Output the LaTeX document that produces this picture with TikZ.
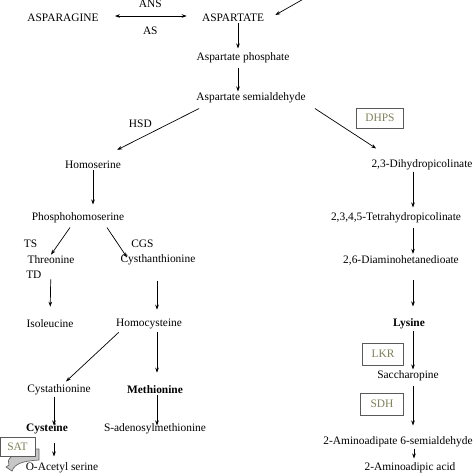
\documentclass[tikz,border=0pt]{standalone}
\usepackage{fontspec}
\setmainfont{Liberation Serif}
\usetikzlibrary{arrows.meta}
\definecolor{enztext}{RGB}{128,128,88}
\definecolor{enzline}{RGB}{90,90,90}

\begin{document}
\begin{tikzpicture}[x=1pt,y=-1pt,line width=0.7pt,>={Stealth[length=5pt,width=3.6pt]},
	every node/.style={font=\fontsize{11.4}{13}\selectfont,inner sep=1pt},
	enz/.style={draw=enzline,fill=white,text=enztext,minimum height=20pt,inner xsep=6pt}]
	\useasboundingbox (0,0) rectangle (474,474);

	\node (ASN) at (63,18) {ASPARAGINE};
	\node (ASP) at (233,18) {ASPARTATE};
	\node (ASPP) at (243,58) {Aspartate phosphate};
	\node (ASA) at (251,98) {Aspartate semialdehyde};
	\node (HSE) at (93,165) {Homoserine};
	\node (PHS) at (78,218) {Phosphohomoserine};
	\node (THR) at (51,260) {Threonine};
	\node (CTN) at (158,260) {Cysthanthionine};
	\node (ILE) at (50,324) {Isoleucine};
	\node (HCY) at (149,324) {Homocysteine};
	\node (CTH) at (59,390) {Cystathionine};
	\node (MET) at (155,390) {\bfseries Methionine};
	\node (CYS) at (47,429) {\bfseries Cysteine};
	\node (SAM) at (155,429) {S-adenosylmethionine};
	\node (OAS) at (62,468) {O-Acetyl serine};
	\node (DHP) at (422,165) {2,3-Dihydropicolinate};
	\node (THP) at (396,218) {2,3,4,5-Tetrahydropicolinate};
	\node (DAP) at (401,260) {2,6-Diaminohetanedioate};
	\node (LYS) at (409,324) {\bfseries Lysine};
	\node (SAC) at (408,376) {Saccharopine};
	\node (AAS) at (398,442) {2-Aminoadipate 6-semialdehyde};
	\node (AAA) at (410,468) {2-Aminoadipic acid};
	\coordinate (IN) at (307,-3);

	% enzymes in boxes
	\node[enz,minimum width=47pt] (DHPS) at (380,118) {DHPS};
	\node[enz,minimum width=41pt,minimum height=22pt] (LKR) at (383,354) {LKR};
	\node[enz,minimum width=43pt,minimum height=22pt] (SDH) at (382,404) {SDH};
	\draw[fill=black!22,draw=black!60] (35,449) -- (39,449) -- (39,460) .. controls (24,461) and (15,463) .. (12,471) -- (6,467) -- (9,465) .. controls (8,460) .. (12,456) -- cycle;
	\node[enz,minimum width=35pt,minimum height=19pt] (SAT) at (17.5,446.5) {SAT};

	% aspartate
	\path [<->]([yshift=2pt]ASN.east) edge[shorten <=15pt,shorten >=14pt] node[above=7pt] {ANS} node[below=10pt] {AS} ([yshift=2pt]ASP.west);
	\path [->](IN) edge ([xshift=10pt,yshift=3pt]ASP.east);
	\path [->]([xshift=5pt]ASP.south) edge[shorten >=3pt] ([xshift=-5pt]ASPP.north);
	\path [->]([xshift=-5pt]ASPP.south) edge[shorten <=3pt] ([xshift=-13pt]ASA.north);
	\path [->]([xshift=4pt,yshift=-4pt]ASA.south west) edge node[above left,xshift=-5pt] {HSD} ([xshift=-5pt,yshift=10pt]HSE.north east);
	\path [->]([xshift=8pt,yshift=-4pt]ASA.south east) edge ([xshift=6pt,yshift=10pt]DHP.north west);

	% threonine and methionine
	\path [->](HSE.south) edge[shorten >=7pt] ([xshift=15pt]PHS.north);
	\path [->]([xshift=-8pt,yshift=-3pt]PHS.south) edge node[pos=0.6,left=20pt] {TS} (THR.north);
	\path [->]([xshift=29pt,yshift=-3pt]PHS.south) edge node[pos=0.55,right=12pt] {CGS} ([xshift=-31pt,yshift=-4pt]CTN.north);
	\path [->](THR.south) edge[shorten <=14pt,shorten >=12pt] node[pos=0.18,left=8pt] {TD} (ILE.north);
	\path [->]([xshift=-1pt]CTN.south) edge[shorten <=14pt,shorten >=8pt] ([xshift=8pt]HCY.north);
	\path [->]([xshift=4pt,yshift=-2pt]HCY.south west) edge ([xshift=7pt,yshift=2pt]CTH.north);
	\path [->]([xshift=8pt]HCY.south) edge[shorten <=2pt,shorten >=12pt] ([xshift=2pt]MET.north);
	\path [->]([xshift=-5pt]CTH.south) edge[shorten >=-3pt] ([xshift=7pt]CYS.north);
	\path [->]([xshift=2pt]MET.south) edge[shorten >=-3pt] ([xshift=2pt]SAM.north);
	\path [->]([xshift=7pt]CYS.south) edge[shorten <=7pt,shorten >=5pt] ([xshift=-8pt]OAS.north);

	% lysine
	\path [->]([xshift=-9pt]DHP.south) edge[shorten >=4pt] ([xshift=17pt]THP.north);
	\path [->]([xshift=17pt]THP.south) edge[shorten <=3pt] ([xshift=12pt]DAP.north);
	\path [->]([xshift=12pt]DAP.south) edge[shorten <=14pt,shorten >=11pt] ([xshift=4pt]LYS.north);
	\path [->]([xshift=4pt]LYS.south) edge ([xshift=5pt]SAC.north);
	\path [->]([xshift=5pt]SAC.south) edge[shorten <=3pt,shorten >=10pt] ([xshift=15pt]AAS.north);
	\path [->]([xshift=16pt]AAS.south) edge[shorten >=3pt] ([xshift=4pt]AAA.north);
\end{tikzpicture}
\end{document}
